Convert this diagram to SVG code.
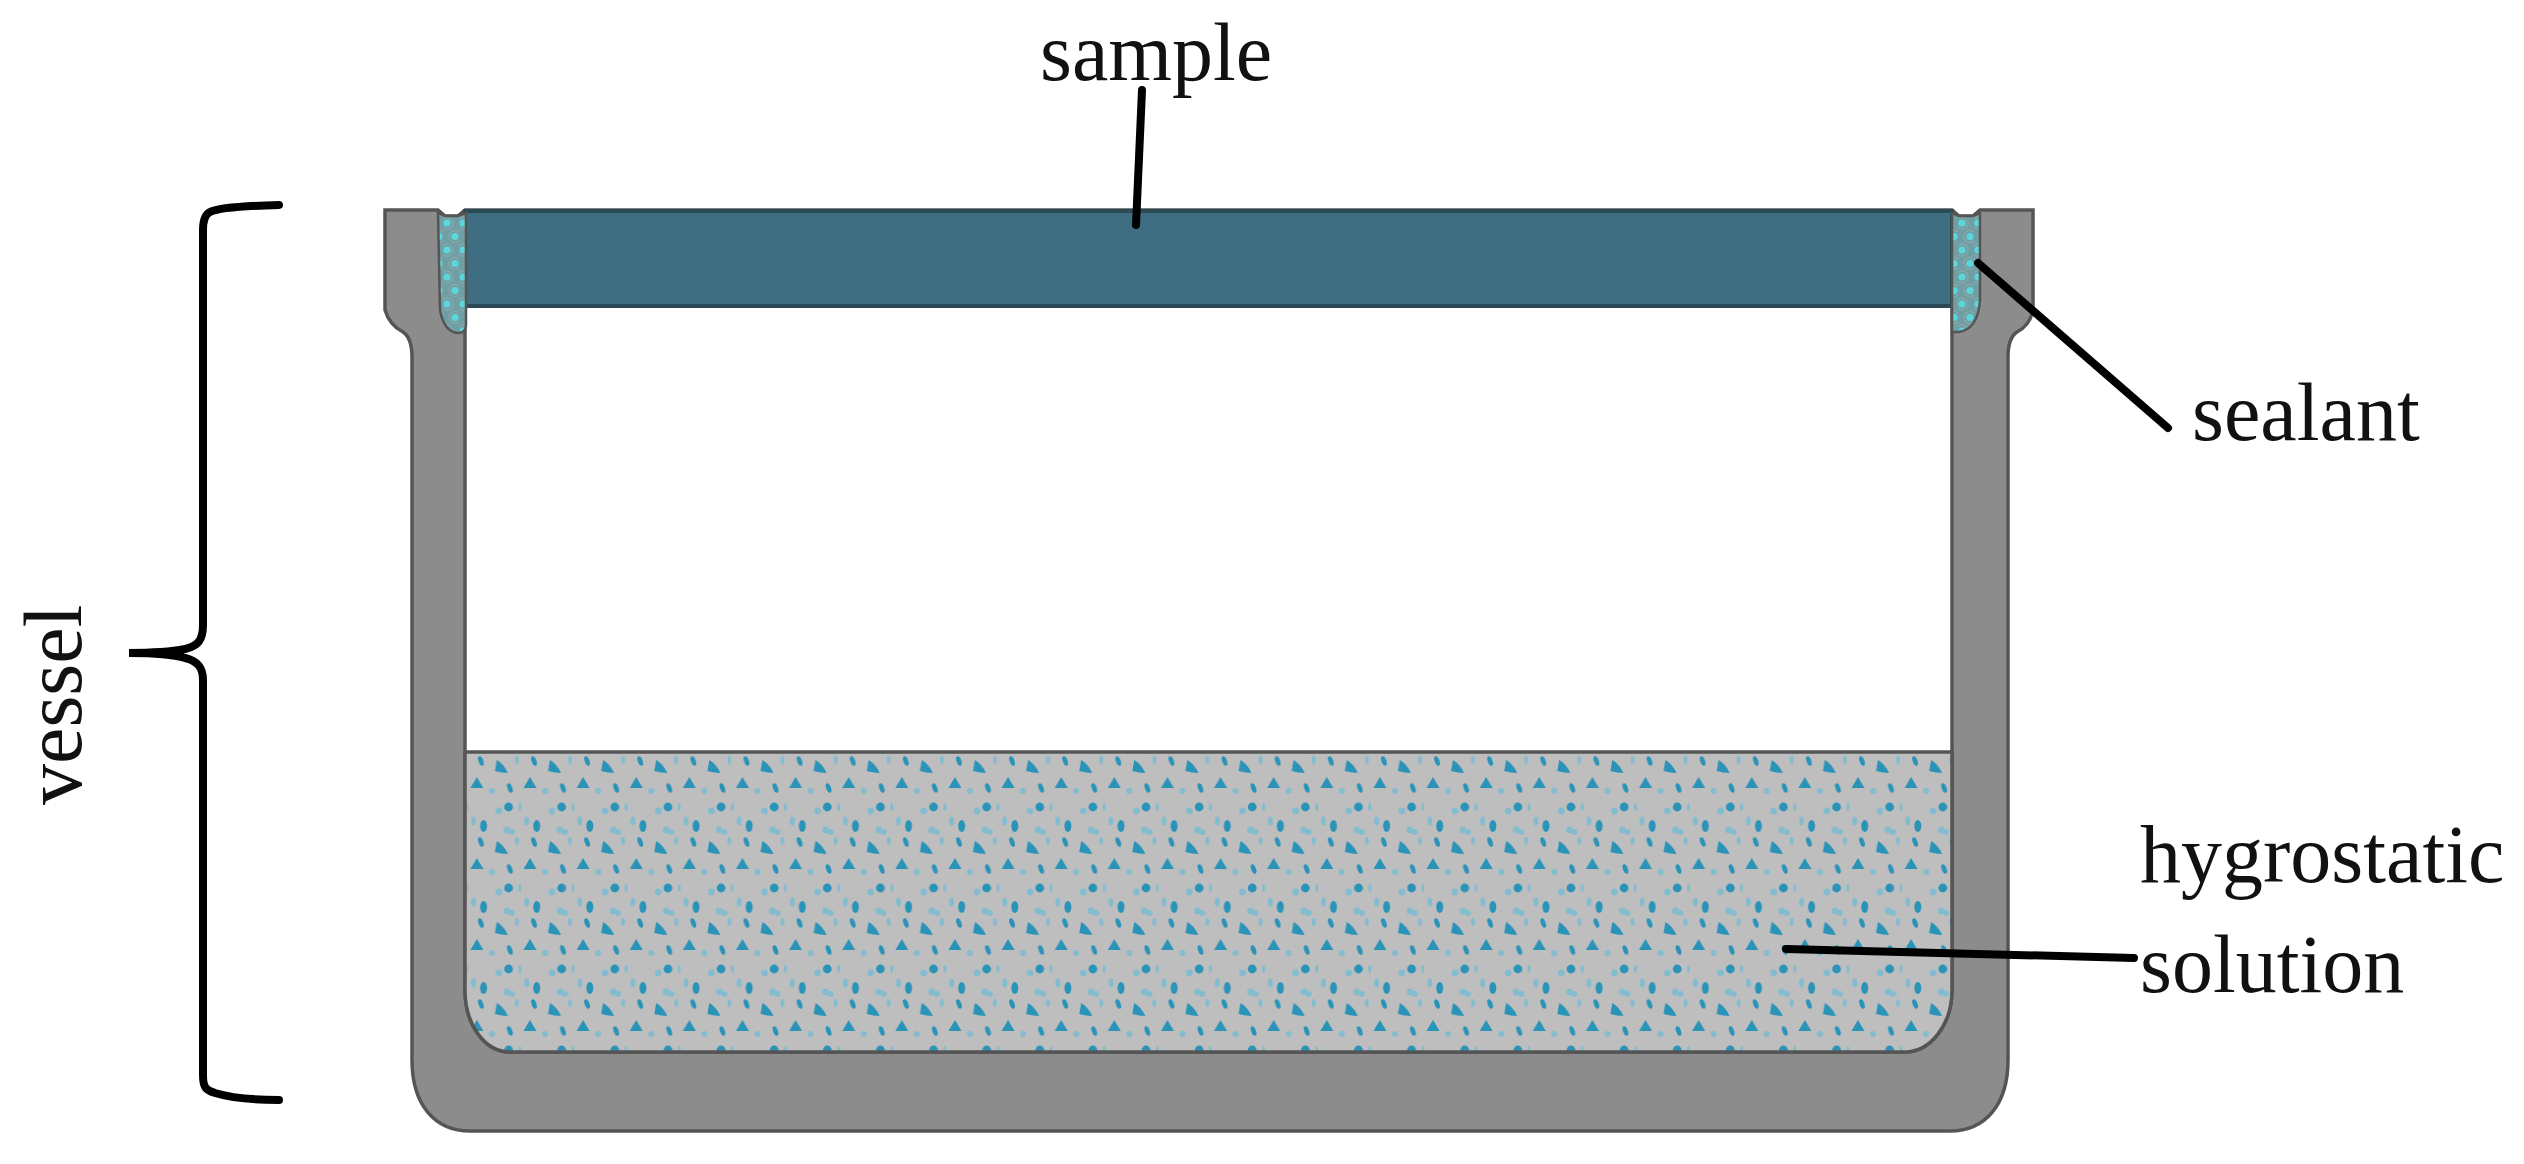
<svg xmlns="http://www.w3.org/2000/svg" width="2524" height="1164" viewBox="0 0 2524 1164">
<style>
.t{font-family:"Liberation Serif","Times New Roman",serif;font-size:82px;fill:#111}
.l{fill:none;stroke:#000;stroke-width:8;stroke-linecap:round}
.e{stroke:#555;stroke-width:3.5}
.d{fill:#2a93b8}
.f{fill:#84bccf}
</style>
<defs>
<pattern id="drops" patternUnits="userSpaceOnUse" width="53.12" height="81" x="530" y="945">
<rect width="53.12" height="81" fill="#bebebe"/>
<path class="d" d="M0-6 6.5 5H-6.5Z M53.12-6 59.62 5H46.62Z M0 75 6.5 86H-6.5Z M53.12 75 59.62 86H46.62Z"/>
<circle class="d" cx="31.7" cy="24" r="4.4"/>
<ellipse class="d" cx="6.7" cy="43" rx="3.5" ry="6"/>
<path class="d" d="M20 58Q27 62 31 71 25 71 18 69Z"/>
<ellipse class="d" cx="33" cy="5" rx="2.4" ry="5" transform="rotate(-20 33 5)"/>
<ellipse class="d" cx="4" cy="59" rx="2.4" ry="5" transform="rotate(-20 4 59)"/>
<ellipse class="d" cx="57.12" cy="59" rx="2.4" ry="5" transform="rotate(-20 57.12 59)"/>
<g class="f">
<circle cx="15" cy="8" r="3"/>
<circle cx="22" cy="28" r="3.4"/>
<circle cx="30" cy="47" r="3.4"/>
<circle cx="35" cy="49" r="3"/>
<ellipse cx="-3.3" cy="38" rx="2.5" ry="4.5"/>
<ellipse cx="49.82" cy="38" rx="2.5" ry="4.5"/>
<ellipse cx="40" cy="58" rx="2" ry="4"/>
<ellipse cx="43" cy="24" rx="1.5" ry="4"/>
</g>
</pattern>
<pattern id="seal" patternUnits="userSpaceOnUse" width="16" height="27" x="443" y="216">
<rect width="16" height="27" fill="#6f9ea4"/>
<g fill="none" stroke="#84a8a8" stroke-width="1.5">
<circle cx="4" cy="7" r="6"/><circle cx="12" cy="20.5" r="6"/>
</g>
<circle cx="4" cy="7" r="3.6" fill="#5cd6da"/>
<circle cx="12" cy="20.5" r="3.6" fill="#5cd6da"/>
</pattern>
<pattern id="seal2" href="#seal" x="1958" y="216"/>
</defs>
<g id="vessel-body">
<path class="e" fill="#8c8c8c" d="M385 210H438L445 216H458L465 210H1952L1959 216H1973L1980 210H2033V310C2031 320 2025 328 2017 332 2011 336 2008 345 2008 357V1060C2008 1105 1985 1131 1950 1131H470C435 1131 412 1105 412 1060V357C412 345 409 336 403 332 395 328 388 320 385 310Z"/>
<path d="M465 306H1952V990C1952 1025 1930 1052 1905 1052H510C485 1052 465 1025 465 990Z" fill="#fff" class="e"/>
</g>
<g id="hygrostatic-solution">
<path d="M465 752H1952V990C1952 1025 1930 1052 1905 1052H510C485 1052 465 1025 465 990Z" fill="url(#drops)" class="e"/>
</g>
<g id="sample">
<rect x="465" y="211" width="1487" height="95" fill="#3f6d82" stroke="#2b4a58" stroke-width="4"/>
</g>
<g id="sealant-left">
<path d="M438 213L445 216H458L466 213V325Q466 333 458 333 444 332 440 310Z" fill="url(#seal)" stroke="#555" stroke-width="2.5"/>
</g>
<g id="sealant-right">
<path d="M1952 213L1959 216H1973L1980 213V300Q1978 330 1958 332H1952Z" fill="url(#seal2)" stroke="#555" stroke-width="2.5"/>
</g>
<g id="connectors">
<path class="l" d="M1142 90 1136 225"/>
<path class="l" d="M1978 263 2168 428"/>
<path class="l" d="M1786 949 2134 958"/>
<path class="l" d="M279 205C240 206 218 208 210 212 204 215 203 222 203 230V625C203 640 198 646 185 649 170 652 150 653 129 653 150 653 172 654 185 658 198 661 203 668 203 680V1075C203 1088 206 1090 215 1093 235 1099 258 1100 279 1100"/>
</g>
<g id="labels">
<text class="t" x="1040" y="80">sample</text>
<text class="t" x="2192" y="440">sealant</text>
<text class="t" x="2140" y="882">hygrostatic</text>
<text class="t" x="2140" y="992">solution</text>
<text class="t" transform="translate(81 805) rotate(-90)">vessel</text>
</g>
</svg>
